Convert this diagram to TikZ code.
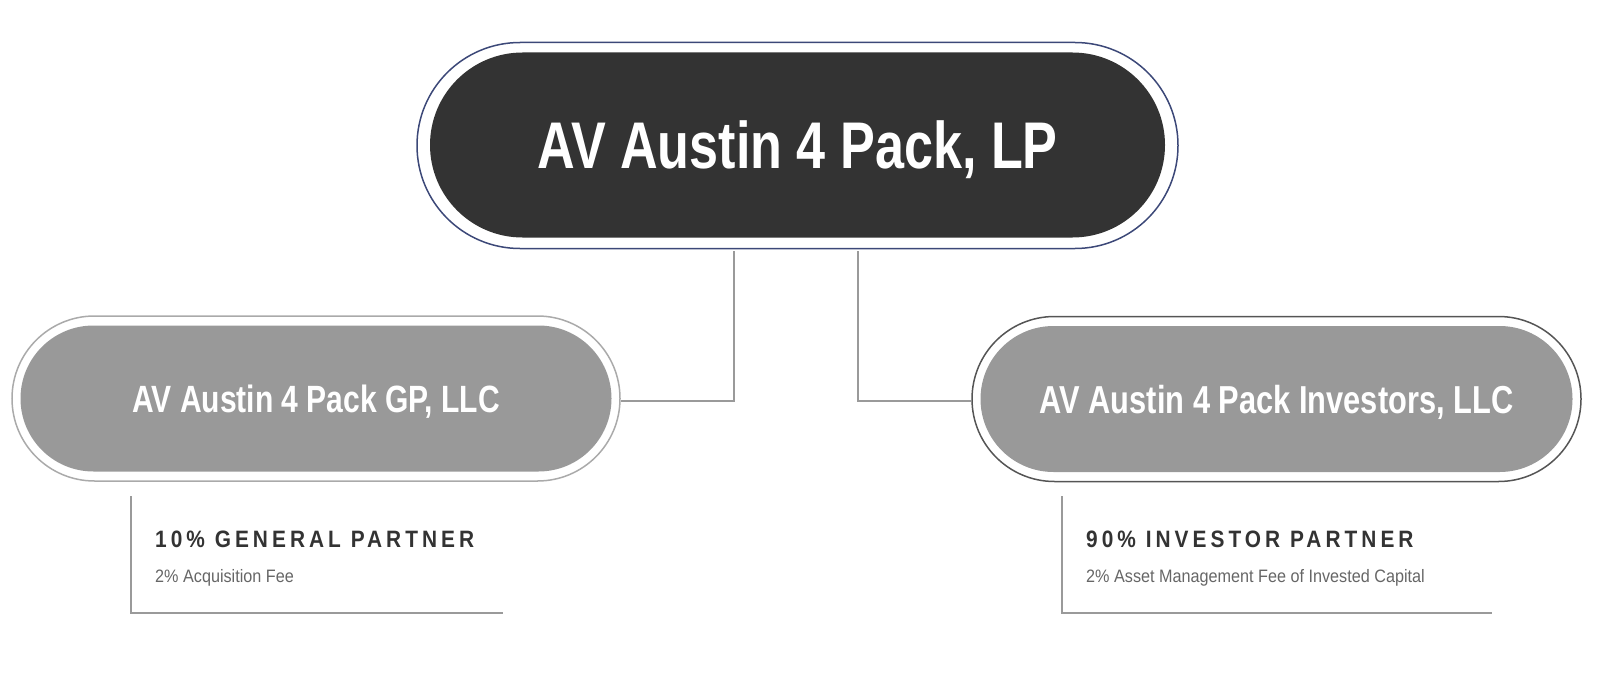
\documentclass[tikz,border=0pt]{standalone}
\usepackage{fontspec}
\setmainfont{Liberation Sans}[FakeStretch=0.79]
\newfontfamily\labfont{Liberation Sans}[FakeStretch=0.88,LetterSpace=17]
\newfontfamily\subfont{Liberation Sans}[FakeStretch=0.9]
\usetikzlibrary{shapes.misc}
\definecolor{darkfill}{HTML}{333333}
\definecolor{midfill}{HTML}{999999}
\definecolor{navyring}{RGB}{60,72,120}
\definecolor{lightring}{HTML}{AAAAAA}
\definecolor{darkring}{HTML}{555555}
\definecolor{connc}{HTML}{9A9A9A}
\definecolor{labc}{HTML}{333333}
\definecolor{subc}{HTML}{666666}
\tikzset{
  pill/.style={rounded rectangle, inner sep=0pt, text depth=0pt},
  ring/.style={rounded rectangle, inner sep=0pt, line width=1.5pt, fill=none},
  conn/.style={draw=connc, line width=2pt},
  bracketline/.style={draw=connc, line width=2pt},
  labtext/.style={anchor=base west, inner sep=0pt, text=labc, font=\labfont\bfseries\fontsize{23.7}{26}\selectfont},
  subtext/.style={anchor=base west, inner sep=0pt, text=subc, font=\subfont\fontsize{18}{20}\selectfont},
}
\begin{document}
\begin{tikzpicture}[x=1pt,y=-1pt]
\useasboundingbox (0,0) rectangle (1600,677);
% main entity
\node[ring, draw=navyring, minimum width=761pt, minimum height=206pt] (mainring) at (797.5,145.5) {};
\node[pill, fill=darkfill, minimum width=735pt, minimum height=185pt, text=white,
      text height=47pt, font=\bfseries\fontsize{66}{70}\selectfont] (main) at (797.5,145) {AV Austin 4 Pack, LP};
% GP
\node[ring, draw=lightring, minimum width=608pt, minimum height=165pt] (gpring) at (316,398.5) {};
\node[pill, fill=midfill, minimum width=591pt, minimum height=146pt, text=white,
      text height=28pt, font=\bfseries\fontsize{38}{42}\selectfont] (gp) at (316,398.5) {AV Austin 4 Pack GP, LLC};
% Investors
\node[ring, draw=darkring, minimum width=609pt, minimum height=165pt] (invring) at (1276.5,399) {};
\node[pill, fill=midfill, minimum width=592pt, minimum height=146pt, text=white,
      text height=28pt, font=\bfseries\fontsize{39}{42}\selectfont] (inv) at (1276.5,399) {AV Austin 4 Pack Investors, LLC};
% connectors
\draw[conn] ([xshift=-63.5pt,yshift=-2pt]mainring.south) |- ([yshift=-2.5pt]gpring.east);
\draw[conn] ([xshift=60.5pt,yshift=-2pt]mainring.south) |- ([yshift=-2pt]invring.west);
% GP info
\coordinate (gpt) at (131,496);
\coordinate (gpc) at (131,613);
\coordinate (gpe) at (503,613);
\draw[bracketline] (gpt) -- (gpc) -- (gpe);
\node[labtext] (gplab) at (155,547) {10\% GENERAL PARTNER};
\node[subtext] (gpsub) at (155,582) {2\% Acquisition Fee};
% Investor info
\coordinate (ivt) at (1062,496);
\coordinate (ivc) at (1062,613);
\coordinate (ive) at (1492,613);
\draw[bracketline] (ivt) -- (ivc) -- (ive);
\node[labtext] (ivlab) at (1086,547) {90\% INVESTOR PARTNER};
\node[subtext] (ivsub) at (1086,582) {2\% Asset Management Fee of Invested Capital};
\end{tikzpicture}
\end{document}
